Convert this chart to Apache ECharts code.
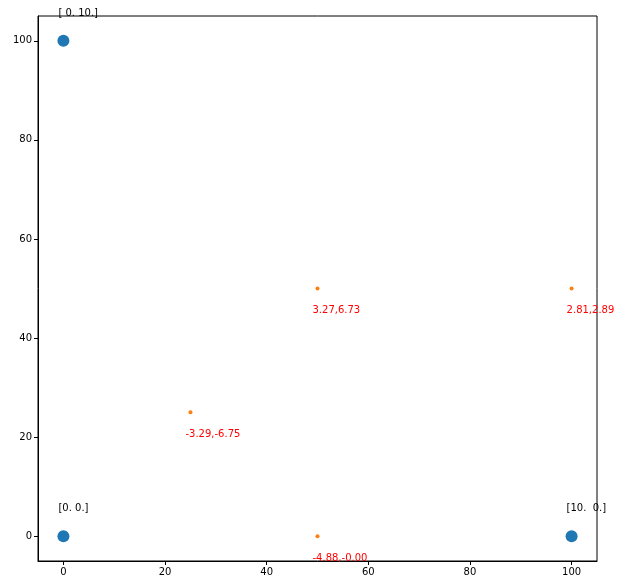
<!DOCTYPE html>
<html>
<head>
<meta charset="utf-8">
<script src="https://cdn.jsdelivr.net/npm/echarts@6/dist/echarts.min.js"></script>
<style>
  html, body { margin: 0; padding: 0; background: #fff; }
  #chart { width: 633px; height: 586px; }
</style>
</head>
<body>
<div id="chart"></div>
<script>
// corner points (big blue) and their labels
const cornerX = [0, 0, 100]
const cornerY = [100, 0, 0]
const cornerLabels = ['[ 0. 10.]', '[0. 0.]', '[10.  0.]']

// inner points (small orange) and their red labels
const innerX = [50, 100, 25, 50]
const innerY = [50, 50, 25, 0]
const innerLabels = ['3.27,6.73', '2.81,2.89', '-3.29,-6.75', '-4.88,-0.00']

const tickValues = [0, 20, 40, 60, 80, 100]

// label offset in data units (text sits above / below the point)
const labelShift = 5

const font = 'DejaVu Sans'

const chart = echarts.init(document.getElementById('chart'))

function axis() {
  return {
    type: 'value',
    min: -5,
    max: 105,
    axisLine: { show: true, onZero: false, lineStyle: { color: '#000', width: 1 } },
    axisTick: { show: true, length: 4, customValues: tickValues, lineStyle: { color: '#000' } },
    axisLabel: { customValues: tickValues, color: '#000', fontSize: 10, fontFamily: font, margin: 6 },
    splitLine: { show: false }
  }
}

function textSeries(xs, ys, labels, dir, color) {
  return {
    type: 'scatter',
    symbolSize: 0,
    silent: true,
    data: xs.map((x, i) => ({ value: [x, ys[i] + dir * labelShift], name: labels[i] })),
    label: {
      show: true,
      position: [-5, 2],
      align: 'left',
      verticalAlign: 'bottom',
      formatter: p => p.name,
      color: color,
      opacity: 1,
      textBorderWidth: 0,
      fontSize: 10,
      fontFamily: font
    }
  }
}

const option = {
  animation: false,
  grid: {
    left: 38, right: 36, top: 16, bottom: 25,
    show: true, borderColor: '#000', borderWidth: 1, backgroundColor: '#fff'
  },
  xAxis: axis(),
  yAxis: axis(),
  series: [
    {
      type: 'scatter',
      symbolSize: 12,
      itemStyle: { color: '#1f77b4', opacity: 1 },
      data: cornerX.map((x, i) => [x, cornerY[i]])
    },
    {
      type: 'scatter',
      symbolSize: 4,
      itemStyle: { color: '#ff7f0e', opacity: 1 },
      data: innerX.map((x, i) => [x, innerY[i]])
    },
    textSeries(cornerX, cornerY, cornerLabels, 1, '#000'),
    textSeries(innerX, innerY, innerLabels, -1, '#ff0000')
  ]
}

chart.setOption(option)
</script>
</body>
</html>
